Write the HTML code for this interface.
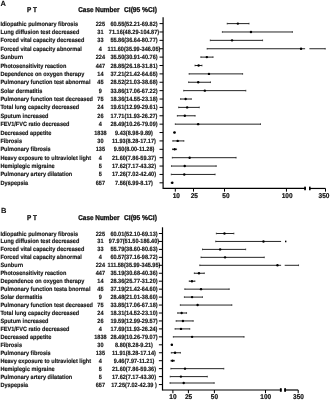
<!DOCTYPE html>
<html><head><meta charset="utf-8"><style>
html,body{margin:0;padding:0;background:#fff;width:330px;height:400px;overflow:hidden}
svg{display:block}
text{font-family:"Liberation Sans",Arial,sans-serif;font-weight:bold;fill:#111;stroke:#111;stroke-width:0.05px;paint-order:stroke;text-rendering:geometricPrecision}
.lb{font-size:6.2px;stroke-width:0.15px}
.hdr{font-size:7.1px;stroke-width:0.3px}
.tk{font-size:7.0px;stroke-width:0.2px}
.let{font-size:7.5px}
.ax{stroke:#000;stroke-width:1.2}
.ci{stroke:#1a1a1a;stroke-width:0.95}
.cap{stroke:#222;stroke-width:0.8}
.dot{fill:#000}
.tk2{stroke:#000;stroke-width:1.0}
</style></head><body>
<svg width="330" height="400" viewBox="0 0 330 400">
<g>
<rect x="0" y="0" width="330" height="400" fill="#fff"/>
<text x="0.4" y="5.9" class="let">A</text>
<text x="35.50" y="11.8" class="hdr" text-anchor="middle" transform="scale(0.9014,1)">P T</text>
<text x="86.75" y="11.8" class="hdr" transform="scale(0.9014,1)" textLength="45.82" lengthAdjust="spacingAndGlyphs">Case Number</text>
<text x="137.56" y="11.8" class="hdr" transform="scale(0.9014,1)" textLength="36.50" lengthAdjust="spacingAndGlyphs">CI(95 %CI)</text>
<line x1="163.1" y1="17.3" x2="163.1" y2="188.95" class="ax"/>
<line x1="163.1" y1="188.45" x2="305.9" y2="188.45" class="ax"/>
<rect x="304.2" y="186.65" width="1.70" height="3.6" class="dot"/>
<line x1="309.0" y1="188.45" x2="325.5" y2="188.45" class="ax"/>
<rect x="309.0" y="186.65" width="1.60" height="3.6" class="dot"/>
<line x1="175.30" y1="188.45" x2="175.30" y2="191.64999999999998" class="tk2"/>
<text x="189.86" y="198.05" class="tk" text-anchor="middle" transform="scale(0.9286,1)">10</text>
<line x1="193.50" y1="188.45" x2="193.50" y2="191.64999999999998" class="tk2"/>
<text x="209.24" y="198.05" class="tk" text-anchor="middle" transform="scale(0.9286,1)">25</text>
<line x1="224.50" y1="188.45" x2="224.50" y2="191.64999999999998" class="tk2"/>
<text x="243.27" y="198.05" class="tk" text-anchor="middle" transform="scale(0.9286,1)">50</text>
<line x1="286.45" y1="188.45" x2="286.45" y2="191.64999999999998" class="tk2"/>
<text x="309.18" y="198.05" class="tk" text-anchor="middle" transform="scale(0.9286,1)">100</text>
<line x1="325.50" y1="188.45" x2="325.50" y2="191.64999999999998" class="tk2"/>
<text x="348.91" y="198.05" class="tk" text-anchor="middle" transform="scale(0.9286,1)">350</text>
<text x="0.45" y="25.60" class="lb" transform="scale(0.8968,1)">Idiopathic pulmonary fibrosis</text>
<text x="111.95" y="25.60" class="lb" text-anchor="middle" transform="scale(0.8968,1)">225</text>
<text x="149.42" y="25.60" class="lb" text-anchor="middle" transform="scale(0.8968,1)">60.55(52.21-69.82)</text>
<line x1="159.5" y1="23.60" x2="163.1" y2="23.60" class="tk2"/>
<line x1="227.23" y1="23.60" x2="249.02" y2="23.60" class="ci"/>
<line x1="227.23" y1="22.80" x2="227.23" y2="24.40" class="cap"/>
<line x1="249.02" y1="22.80" x2="249.02" y2="24.40" class="cap"/>
<circle cx="237.85" cy="23.60" r="1.2" class="dot"/>
<text x="0.45" y="33.98" class="lb" transform="scale(0.8968,1)">Lung diffusion test decreased</text>
<text x="111.95" y="33.98" class="lb" text-anchor="middle" transform="scale(0.8968,1)">31</text>
<text x="149.42" y="33.98" class="lb" text-anchor="middle" transform="scale(0.8968,1)">71.16(48.29-104.87)</text>
<line x1="159.5" y1="31.98" x2="163.1" y2="31.98" class="tk2"/>
<line x1="222.37" y1="31.98" x2="292.41" y2="31.98" class="ci"/>
<line x1="222.37" y1="31.18" x2="222.37" y2="32.78" class="cap"/>
<line x1="292.41" y1="31.18" x2="292.41" y2="32.78" class="cap"/>
<circle cx="250.98" cy="31.98" r="1.2" class="dot"/>
<text x="0.45" y="42.36" class="lb" transform="scale(0.8968,1)">Forced vital capacity decreased</text>
<text x="111.95" y="42.36" class="lb" text-anchor="middle" transform="scale(0.8968,1)">33</text>
<text x="149.42" y="42.36" class="lb" text-anchor="middle" transform="scale(0.8968,1)">55.86(36.64-80.77)</text>
<line x1="159.5" y1="40.36" x2="163.1" y2="40.36" class="tk2"/>
<line x1="210.30" y1="40.36" x2="262.58" y2="40.36" class="ci"/>
<line x1="210.30" y1="39.56" x2="210.30" y2="41.16" class="cap"/>
<line x1="262.58" y1="39.56" x2="262.58" y2="41.16" class="cap"/>
<circle cx="232.04" cy="40.36" r="1.2" class="dot"/>
<text x="0.45" y="50.74" class="lb" transform="scale(0.8968,1)">Forced vital capacity abnormal</text>
<text x="111.95" y="50.74" class="lb" text-anchor="middle" transform="scale(0.8968,1)">4</text>
<text x="149.42" y="50.74" class="lb" text-anchor="middle" transform="scale(0.8968,1)">111.60(35.99-346.05)</text>
<line x1="159.5" y1="48.74" x2="163.1" y2="48.74" class="tk2"/>
<line x1="207.15" y1="48.74" x2="305.10" y2="48.74" class="ci"/>
<line x1="309.40" y1="48.74" x2="325.23" y2="48.74" class="ci"/>
<line x1="207.15" y1="47.94" x2="207.15" y2="49.54" class="cap"/>
<line x1="325.23" y1="47.94" x2="325.23" y2="49.54" class="cap"/>
<circle cx="301.04" cy="48.74" r="1.2" class="dot"/>
<text x="0.45" y="59.12" class="lb" transform="scale(0.8968,1)">Sunburn</text>
<text x="111.95" y="59.12" class="lb" text-anchor="middle" transform="scale(0.8968,1)">224</text>
<text x="149.42" y="59.12" class="lb" text-anchor="middle" transform="scale(0.8968,1)">35.50(30.91-40.76)</text>
<line x1="159.5" y1="57.12" x2="163.1" y2="57.12" class="tk2"/>
<line x1="200.86" y1="57.12" x2="213.05" y2="57.12" class="ci"/>
<line x1="200.86" y1="56.32" x2="200.86" y2="57.92" class="cap"/>
<line x1="213.05" y1="56.32" x2="213.05" y2="57.92" class="cap"/>
<circle cx="206.84" cy="57.12" r="1.2" class="dot"/>
<text x="0.45" y="67.50" class="lb" transform="scale(0.8968,1)">Photosensitivity reaction</text>
<text x="111.95" y="67.50" class="lb" text-anchor="middle" transform="scale(0.8968,1)">447</text>
<text x="149.42" y="67.50" class="lb" text-anchor="middle" transform="scale(0.8968,1)">28.85(26.18-31.81)</text>
<line x1="159.5" y1="65.50" x2="163.1" y2="65.50" class="tk2"/>
<line x1="195.01" y1="65.50" x2="201.97" y2="65.50" class="ci"/>
<line x1="195.01" y1="64.70" x2="195.01" y2="66.30" class="cap"/>
<line x1="201.97" y1="64.70" x2="201.97" y2="66.30" class="cap"/>
<circle cx="198.61" cy="65.50" r="1.2" class="dot"/>
<text x="0.45" y="75.88" class="lb" transform="scale(0.8968,1)">Dependence on oxygen therapy</text>
<text x="111.95" y="75.88" class="lb" text-anchor="middle" transform="scale(0.8968,1)">14</text>
<text x="149.42" y="75.88" class="lb" text-anchor="middle" transform="scale(0.8968,1)">37.21(21.42-64.65)</text>
<line x1="159.5" y1="73.88" x2="163.1" y2="73.88" class="tk2"/>
<line x1="189.11" y1="73.88" x2="242.62" y2="73.88" class="ci"/>
<line x1="189.11" y1="73.08" x2="189.11" y2="74.68" class="cap"/>
<line x1="242.62" y1="73.08" x2="242.62" y2="74.68" class="cap"/>
<circle cx="208.96" cy="73.88" r="1.2" class="dot"/>
<text x="0.45" y="84.26" class="lb" transform="scale(0.8968,1)">Pulmonary function test abnormal</text>
<text x="111.95" y="84.26" class="lb" text-anchor="middle" transform="scale(0.8968,1)">45</text>
<text x="149.42" y="84.26" class="lb" text-anchor="middle" transform="scale(0.8968,1)">28.52(21.03-38.68)</text>
<line x1="159.5" y1="82.26" x2="163.1" y2="82.26" class="tk2"/>
<line x1="188.63" y1="82.26" x2="210.48" y2="82.26" class="ci"/>
<line x1="188.63" y1="81.46" x2="188.63" y2="83.06" class="cap"/>
<line x1="210.48" y1="81.46" x2="210.48" y2="83.06" class="cap"/>
<circle cx="198.20" cy="82.26" r="1.2" class="dot"/>
<text x="0.45" y="92.64" class="lb" transform="scale(0.8968,1)">Solar dermatitis</text>
<text x="111.95" y="92.64" class="lb" text-anchor="middle" transform="scale(0.8968,1)">9</text>
<text x="149.42" y="92.64" class="lb" text-anchor="middle" transform="scale(0.8968,1)">33.86(17.06-67.22)</text>
<line x1="159.5" y1="90.64" x2="163.1" y2="90.64" class="tk2"/>
<line x1="183.72" y1="90.64" x2="245.80" y2="90.64" class="ci"/>
<line x1="183.72" y1="89.84" x2="183.72" y2="91.44" class="cap"/>
<line x1="245.80" y1="89.84" x2="245.80" y2="91.44" class="cap"/>
<circle cx="204.81" cy="90.64" r="1.2" class="dot"/>
<text x="0.45" y="101.02" class="lb" transform="scale(0.8968,1)">Pulmonary function test decreased</text>
<text x="111.95" y="101.02" class="lb" text-anchor="middle" transform="scale(0.8968,1)">75</text>
<text x="149.42" y="101.02" class="lb" text-anchor="middle" transform="scale(0.8968,1)">18.36(14.55-23.18)</text>
<line x1="159.5" y1="99.02" x2="163.1" y2="99.02" class="tk2"/>
<line x1="180.61" y1="99.02" x2="191.29" y2="99.02" class="ci"/>
<line x1="180.61" y1="98.22" x2="180.61" y2="99.82" class="cap"/>
<line x1="191.29" y1="98.22" x2="191.29" y2="99.82" class="cap"/>
<circle cx="185.63" cy="99.02" r="1.2" class="dot"/>
<text x="0.45" y="109.40" class="lb" transform="scale(0.8968,1)">Total lung capacity decreased</text>
<text x="111.95" y="109.40" class="lb" text-anchor="middle" transform="scale(0.8968,1)">24</text>
<text x="149.42" y="109.40" class="lb" text-anchor="middle" transform="scale(0.8968,1)">19.61(12.99-29.61)</text>
<line x1="159.5" y1="107.40" x2="163.1" y2="107.40" class="tk2"/>
<line x1="178.68" y1="107.40" x2="199.25" y2="107.40" class="ci"/>
<line x1="178.68" y1="106.60" x2="178.68" y2="108.20" class="cap"/>
<line x1="199.25" y1="106.60" x2="199.25" y2="108.20" class="cap"/>
<circle cx="187.17" cy="107.40" r="1.2" class="dot"/>
<text x="0.45" y="117.78" class="lb" transform="scale(0.8968,1)">Sputum increased</text>
<text x="111.95" y="117.78" class="lb" text-anchor="middle" transform="scale(0.8968,1)">26</text>
<text x="149.42" y="117.78" class="lb" text-anchor="middle" transform="scale(0.8968,1)">17.71(11.93-26.27)</text>
<line x1="159.5" y1="115.78" x2="163.1" y2="115.78" class="tk2"/>
<line x1="177.37" y1="115.78" x2="195.12" y2="115.78" class="ci"/>
<line x1="177.37" y1="114.98" x2="177.37" y2="116.58" class="cap"/>
<line x1="195.12" y1="114.98" x2="195.12" y2="116.58" class="cap"/>
<circle cx="184.82" cy="115.78" r="1.2" class="dot"/>
<text x="0.45" y="126.16" class="lb" transform="scale(0.8968,1)">FEV1/FVC ratio decreased</text>
<text x="111.95" y="126.16" class="lb" text-anchor="middle" transform="scale(0.8968,1)">4</text>
<text x="149.42" y="126.16" class="lb" text-anchor="middle" transform="scale(0.8968,1)">28.49(10.26-79.09)</text>
<line x1="159.5" y1="124.16" x2="163.1" y2="124.16" class="tk2"/>
<line x1="175.30" y1="124.16" x2="260.50" y2="124.16" class="ci"/>
<line x1="175.30" y1="123.36" x2="175.30" y2="124.96" class="cap"/>
<line x1="260.50" y1="123.36" x2="260.50" y2="124.96" class="cap"/>
<circle cx="198.16" cy="124.16" r="1.2" class="dot"/>
<text x="0.45" y="134.54" class="lb" transform="scale(0.8968,1)">Decreased appetite</text>
<text x="111.95" y="134.54" class="lb" text-anchor="middle" transform="scale(0.8968,1)">1838</text>
<text x="149.42" y="134.54" class="lb" text-anchor="middle" transform="scale(0.8968,1)">9.43(8.98-9.89)</text>
<line x1="159.5" y1="132.54" x2="163.1" y2="132.54" class="tk2"/>
<line x1="173.72" y1="132.54" x2="174.84" y2="132.54" class="ci"/>
<line x1="173.72" y1="131.74" x2="173.72" y2="133.34" class="cap"/>
<line x1="174.84" y1="131.74" x2="174.84" y2="133.34" class="cap"/>
<circle cx="174.57" cy="132.54" r="1.2" class="dot"/>
<text x="0.45" y="142.92" class="lb" transform="scale(0.8968,1)">Fibrosis</text>
<text x="111.95" y="142.92" class="lb" text-anchor="middle" transform="scale(0.8968,1)">30</text>
<text x="149.42" y="142.92" class="lb" text-anchor="middle" transform="scale(0.8968,1)">11.93(8.28-17.17)</text>
<line x1="159.5" y1="140.92" x2="163.1" y2="140.92" class="tk2"/>
<line x1="172.85" y1="140.92" x2="183.85" y2="140.92" class="ci"/>
<line x1="172.85" y1="140.12" x2="172.85" y2="141.72" class="cap"/>
<line x1="183.85" y1="140.12" x2="183.85" y2="141.72" class="cap"/>
<circle cx="177.67" cy="140.92" r="1.2" class="dot"/>
<text x="0.45" y="151.30" class="lb" transform="scale(0.8968,1)">Pulmonary fibrosis</text>
<text x="111.95" y="151.30" class="lb" text-anchor="middle" transform="scale(0.8968,1)">135</text>
<text x="149.42" y="151.30" class="lb" text-anchor="middle" transform="scale(0.8968,1)">9.50(8.00-11.28)</text>
<line x1="159.5" y1="149.30" x2="163.1" y2="149.30" class="tk2"/>
<line x1="172.50" y1="149.30" x2="176.56" y2="149.30" class="ci"/>
<line x1="172.50" y1="148.50" x2="172.50" y2="150.10" class="cap"/>
<line x1="176.56" y1="148.50" x2="176.56" y2="150.10" class="cap"/>
<circle cx="174.66" cy="149.30" r="1.2" class="dot"/>
<text x="0.45" y="159.68" class="lb" transform="scale(0.8968,1)">Heavy exposure to ultraviolet light</text>
<text x="111.95" y="159.68" class="lb" text-anchor="middle" transform="scale(0.8968,1)">4</text>
<text x="149.42" y="159.68" class="lb" text-anchor="middle" transform="scale(0.8968,1)">21.60(7.86-59.37)</text>
<line x1="159.5" y1="157.68" x2="163.1" y2="157.68" class="tk2"/>
<line x1="172.33" y1="157.68" x2="236.09" y2="157.68" class="ci"/>
<line x1="172.33" y1="156.88" x2="172.33" y2="158.48" class="cap"/>
<line x1="236.09" y1="156.88" x2="236.09" y2="158.48" class="cap"/>
<circle cx="189.64" cy="157.68" r="1.2" class="dot"/>
<text x="0.45" y="168.06" class="lb" transform="scale(0.8968,1)">Hemiplegic migraine</text>
<text x="111.95" y="168.06" class="lb" text-anchor="middle" transform="scale(0.8968,1)">5</text>
<text x="149.42" y="168.06" class="lb" text-anchor="middle" transform="scale(0.8968,1)">17.62(7.17-43.32)</text>
<line x1="159.5" y1="166.06" x2="163.1" y2="166.06" class="tk2"/>
<line x1="171.48" y1="166.06" x2="216.22" y2="166.06" class="ci"/>
<line x1="171.48" y1="165.26" x2="171.48" y2="166.86" class="cap"/>
<line x1="216.22" y1="165.26" x2="216.22" y2="166.86" class="cap"/>
<circle cx="184.71" cy="166.06" r="1.2" class="dot"/>
<text x="0.45" y="176.44" class="lb" transform="scale(0.8968,1)">Pulmonary artery dilatation</text>
<text x="111.95" y="176.44" class="lb" text-anchor="middle" transform="scale(0.8968,1)">5</text>
<text x="149.42" y="176.44" class="lb" text-anchor="middle" transform="scale(0.8968,1)">17.26(7.02-42.40)</text>
<line x1="159.5" y1="174.44" x2="163.1" y2="174.44" class="tk2"/>
<line x1="171.29" y1="174.44" x2="215.08" y2="174.44" class="ci"/>
<line x1="171.29" y1="173.64" x2="171.29" y2="175.24" class="cap"/>
<line x1="215.08" y1="173.64" x2="215.08" y2="175.24" class="cap"/>
<circle cx="184.26" cy="174.44" r="1.2" class="dot"/>
<text x="0.45" y="184.82" class="lb" transform="scale(0.8968,1)">Dyspepsia</text>
<text x="111.95" y="184.82" class="lb" text-anchor="middle" transform="scale(0.8968,1)">657</text>
<text x="149.42" y="184.82" class="lb" text-anchor="middle" transform="scale(0.8968,1)">7.56(6.99-8.17)</text>
<line x1="159.5" y1="182.82" x2="163.1" y2="182.82" class="tk2"/>
<line x1="171.25" y1="182.82" x2="172.71" y2="182.82" class="ci"/>
<line x1="171.25" y1="182.02" x2="171.25" y2="183.62" class="cap"/>
<line x1="172.71" y1="182.02" x2="172.71" y2="183.62" class="cap"/>
<circle cx="172.26" cy="182.82" r="1.2" class="dot"/>
<text x="1.0" y="212.6" class="let">B</text>
<text x="35.50" y="220.0" class="hdr" text-anchor="middle" transform="scale(0.9014,1)">P T</text>
<text x="86.75" y="220.0" class="hdr" transform="scale(0.9014,1)" textLength="45.82" lengthAdjust="spacingAndGlyphs">Case Number</text>
<text x="137.56" y="220.0" class="hdr" transform="scale(0.9014,1)" textLength="36.50" lengthAdjust="spacingAndGlyphs">CI(95 %CI)</text>
<line x1="162.5" y1="227.3" x2="162.5" y2="390.5" class="ax"/>
<line x1="162.5" y1="390.0" x2="281.7" y2="390.0" class="ax"/>
<rect x="279.9" y="388.20" width="1.80" height="3.6" class="dot"/>
<line x1="284.2" y1="390.0" x2="298.2" y2="390.0" class="ax"/>
<rect x="284.2" y="388.20" width="1.80" height="3.6" class="dot"/>
<line x1="172.90" y1="390.0" x2="172.90" y2="393.2" class="tk2"/>
<text x="186.30" y="398.90" class="tk" text-anchor="middle" transform="scale(0.9286,1)">10</text>
<line x1="188.40" y1="390.0" x2="188.40" y2="393.2" class="tk2"/>
<text x="203.10" y="398.90" class="tk" text-anchor="middle" transform="scale(0.9286,1)">25</text>
<line x1="214.40" y1="390.0" x2="214.40" y2="393.2" class="tk2"/>
<text x="230.89" y="398.90" class="tk" text-anchor="middle" transform="scale(0.9286,1)">50</text>
<line x1="265.50" y1="390.0" x2="265.50" y2="393.2" class="tk2"/>
<text x="286.24" y="398.90" class="tk" text-anchor="middle" transform="scale(0.9286,1)">100</text>
<line x1="298.20" y1="390.0" x2="298.20" y2="393.2" class="tk2"/>
<text x="321.45" y="398.90" class="tk" text-anchor="middle" transform="scale(0.9286,1)">350</text>
<text x="0.45" y="235.50" class="lb" transform="scale(0.8968,1)">Idiopathic pulmonary fibrosis</text>
<text x="111.95" y="235.50" class="lb" text-anchor="middle" transform="scale(0.8968,1)">225</text>
<text x="149.42" y="235.50" class="lb" text-anchor="middle" transform="scale(0.8968,1)">60.01(52.10-69.13)</text>
<line x1="158.9" y1="233.50" x2="162.5" y2="233.50" class="tk2"/>
<line x1="216.35" y1="233.50" x2="233.85" y2="233.50" class="ci"/>
<line x1="216.35" y1="232.70" x2="216.35" y2="234.30" class="cap"/>
<line x1="233.85" y1="232.70" x2="233.85" y2="234.30" class="cap"/>
<circle cx="224.48" cy="233.50" r="1.2" class="dot"/>
<text x="0.45" y="243.45" class="lb" transform="scale(0.8968,1)">Lung diffusion test decreased</text>
<text x="111.95" y="243.45" class="lb" text-anchor="middle" transform="scale(0.8968,1)">31</text>
<text x="149.42" y="243.45" class="lb" text-anchor="middle" transform="scale(0.8968,1)">97.97(51.50-186.40)</text>
<line x1="158.9" y1="241.45" x2="162.5" y2="241.45" class="tk2"/>
<line x1="215.73" y1="241.45" x2="281.10" y2="241.45" class="ci"/>
<line x1="215.73" y1="240.65" x2="215.73" y2="242.25" class="cap"/>
<rect x="285.0" y="240.65" width="1.4" height="1.6" class="dot"/>
<circle cx="263.48" cy="241.45" r="1.2" class="dot"/>
<text x="0.45" y="251.40" class="lb" transform="scale(0.8968,1)">Forced vital capacity decreased</text>
<text x="111.95" y="251.40" class="lb" text-anchor="middle" transform="scale(0.8968,1)">33</text>
<text x="149.42" y="251.40" class="lb" text-anchor="middle" transform="scale(0.8968,1)">55.79(38.60-80.63)</text>
<line x1="158.9" y1="249.40" x2="162.5" y2="249.40" class="tk2"/>
<line x1="202.48" y1="249.40" x2="245.67" y2="249.40" class="ci"/>
<line x1="202.48" y1="248.60" x2="202.48" y2="250.20" class="cap"/>
<line x1="245.67" y1="248.60" x2="245.67" y2="250.20" class="cap"/>
<circle cx="220.14" cy="249.40" r="1.2" class="dot"/>
<text x="0.45" y="259.35" class="lb" transform="scale(0.8968,1)">Forced vital capacity abnormal</text>
<text x="111.95" y="259.35" class="lb" text-anchor="middle" transform="scale(0.8968,1)">4</text>
<text x="149.42" y="259.35" class="lb" text-anchor="middle" transform="scale(0.8968,1)">60.57(37.16-98.72)</text>
<line x1="158.9" y1="257.35" x2="162.5" y2="257.35" class="tk2"/>
<line x1="201.00" y1="257.35" x2="264.25" y2="257.35" class="ci"/>
<line x1="201.00" y1="256.55" x2="201.00" y2="258.15" class="cap"/>
<line x1="264.25" y1="256.55" x2="264.25" y2="258.15" class="cap"/>
<circle cx="225.05" cy="257.35" r="1.2" class="dot"/>
<text x="0.45" y="267.30" class="lb" transform="scale(0.8968,1)">Sunburn</text>
<text x="111.95" y="267.30" class="lb" text-anchor="middle" transform="scale(0.8968,1)">224</text>
<text x="149.42" y="267.30" class="lb" text-anchor="middle" transform="scale(0.8968,1)">111.58(35.99-345.95)</text>
<line x1="158.9" y1="265.30" x2="162.5" y2="265.30" class="tk2"/>
<line x1="199.79" y1="265.30" x2="281.10" y2="265.30" class="ci"/>
<line x1="284.70" y1="265.30" x2="298.56" y2="265.30" class="ci"/>
<line x1="199.79" y1="264.50" x2="199.79" y2="266.10" class="cap"/>
<line x1="298.56" y1="264.50" x2="298.56" y2="266.10" class="cap"/>
<circle cx="277.47" cy="265.30" r="1.2" class="dot"/>
<text x="0.45" y="275.25" class="lb" transform="scale(0.8968,1)">Photosensitivity reaction</text>
<text x="111.95" y="275.25" class="lb" text-anchor="middle" transform="scale(0.8968,1)">447</text>
<text x="149.42" y="275.25" class="lb" text-anchor="middle" transform="scale(0.8968,1)">35.19(30.68-40.36)</text>
<line x1="158.9" y1="273.25" x2="162.5" y2="273.25" class="tk2"/>
<line x1="194.34" y1="273.25" x2="204.28" y2="273.25" class="ci"/>
<line x1="194.34" y1="272.45" x2="194.34" y2="274.05" class="cap"/>
<line x1="204.28" y1="272.45" x2="204.28" y2="274.05" class="cap"/>
<circle cx="198.97" cy="273.25" r="1.2" class="dot"/>
<text x="0.45" y="283.20" class="lb" transform="scale(0.8968,1)">Dependence on oxygen therapy</text>
<text x="111.95" y="283.20" class="lb" text-anchor="middle" transform="scale(0.8968,1)">14</text>
<text x="149.42" y="283.20" class="lb" text-anchor="middle" transform="scale(0.8968,1)">28.36(25.77-31.20)</text>
<line x1="158.9" y1="281.20" x2="162.5" y2="281.20" class="tk2"/>
<line x1="189.29" y1="281.20" x2="194.87" y2="281.20" class="ci"/>
<line x1="189.29" y1="280.40" x2="189.29" y2="282.00" class="cap"/>
<line x1="194.87" y1="280.40" x2="194.87" y2="282.00" class="cap"/>
<circle cx="191.95" cy="281.20" r="1.2" class="dot"/>
<text x="0.45" y="291.15" class="lb" transform="scale(0.8968,1)">Pulmonary function testa bnormal</text>
<text x="111.95" y="291.15" class="lb" text-anchor="middle" transform="scale(0.8968,1)">45</text>
<text x="149.42" y="291.15" class="lb" text-anchor="middle" transform="scale(0.8968,1)">37.19(21.42-64.60)</text>
<line x1="158.9" y1="289.15" x2="162.5" y2="289.15" class="tk2"/>
<line x1="184.82" y1="289.15" x2="229.19" y2="289.15" class="ci"/>
<line x1="184.82" y1="288.35" x2="184.82" y2="289.95" class="cap"/>
<line x1="229.19" y1="288.35" x2="229.19" y2="289.95" class="cap"/>
<circle cx="201.03" cy="289.15" r="1.2" class="dot"/>
<text x="0.45" y="299.10" class="lb" transform="scale(0.8968,1)">Solar dermatitis</text>
<text x="111.95" y="299.10" class="lb" text-anchor="middle" transform="scale(0.8968,1)">9</text>
<text x="149.42" y="299.10" class="lb" text-anchor="middle" transform="scale(0.8968,1)">28.48(21.01-38.60)</text>
<line x1="158.9" y1="297.10" x2="162.5" y2="297.10" class="tk2"/>
<line x1="184.40" y1="297.10" x2="202.48" y2="297.10" class="ci"/>
<line x1="184.40" y1="296.30" x2="184.40" y2="297.90" class="cap"/>
<line x1="202.48" y1="296.30" x2="202.48" y2="297.90" class="cap"/>
<circle cx="192.08" cy="297.10" r="1.2" class="dot"/>
<text x="0.45" y="307.05" class="lb" transform="scale(0.8968,1)">Pulmonary function test decreased</text>
<text x="111.95" y="307.05" class="lb" text-anchor="middle" transform="scale(0.8968,1)">75</text>
<text x="149.42" y="307.05" class="lb" text-anchor="middle" transform="scale(0.8968,1)">33.85(17.06-67.18)</text>
<line x1="158.9" y1="305.05" x2="162.5" y2="305.05" class="tk2"/>
<line x1="180.34" y1="305.05" x2="231.84" y2="305.05" class="ci"/>
<line x1="180.34" y1="304.25" x2="180.34" y2="305.85" class="cap"/>
<line x1="231.84" y1="304.25" x2="231.84" y2="305.85" class="cap"/>
<circle cx="197.59" cy="305.05" r="1.2" class="dot"/>
<text x="0.45" y="315.00" class="lb" transform="scale(0.8968,1)">Total lung capacity decreased</text>
<text x="111.95" y="315.00" class="lb" text-anchor="middle" transform="scale(0.8968,1)">24</text>
<text x="149.42" y="315.00" class="lb" text-anchor="middle" transform="scale(0.8968,1)">18.31(14.52-23.10)</text>
<line x1="158.9" y1="313.00" x2="162.5" y2="313.00" class="tk2"/>
<line x1="177.73" y1="313.00" x2="186.55" y2="313.00" class="ci"/>
<line x1="177.73" y1="312.20" x2="177.73" y2="313.80" class="cap"/>
<line x1="186.55" y1="312.20" x2="186.55" y2="313.80" class="cap"/>
<circle cx="181.63" cy="313.00" r="1.2" class="dot"/>
<text x="0.45" y="322.95" class="lb" transform="scale(0.8968,1)">Sputum increased</text>
<text x="111.95" y="322.95" class="lb" text-anchor="middle" transform="scale(0.8968,1)">26</text>
<text x="149.42" y="322.95" class="lb" text-anchor="middle" transform="scale(0.8968,1)">19.59(12.99-29.57)</text>
<line x1="158.9" y1="320.95" x2="162.5" y2="320.95" class="tk2"/>
<line x1="176.16" y1="320.95" x2="193.20" y2="320.95" class="ci"/>
<line x1="176.16" y1="320.15" x2="176.16" y2="321.75" class="cap"/>
<line x1="193.20" y1="320.15" x2="193.20" y2="321.75" class="cap"/>
<circle cx="182.94" cy="320.95" r="1.2" class="dot"/>
<text x="0.45" y="330.90" class="lb" transform="scale(0.8968,1)">FEV1/FVC ratio decreased</text>
<text x="111.95" y="330.90" class="lb" text-anchor="middle" transform="scale(0.8968,1)">4</text>
<text x="149.42" y="330.90" class="lb" text-anchor="middle" transform="scale(0.8968,1)">17.69(11.93-26.24)</text>
<line x1="158.9" y1="328.90" x2="162.5" y2="328.90" class="tk2"/>
<line x1="175.07" y1="328.90" x2="189.77" y2="328.90" class="ci"/>
<line x1="175.07" y1="328.10" x2="175.07" y2="329.70" class="cap"/>
<line x1="189.77" y1="328.10" x2="189.77" y2="329.70" class="cap"/>
<circle cx="180.99" cy="328.90" r="1.2" class="dot"/>
<text x="0.45" y="338.85" class="lb" transform="scale(0.8968,1)">Decreased appetite</text>
<text x="111.95" y="338.85" class="lb" text-anchor="middle" transform="scale(0.8968,1)">1838</text>
<text x="149.42" y="338.85" class="lb" text-anchor="middle" transform="scale(0.8968,1)">28.49(10.26-79.07)</text>
<line x1="158.9" y1="336.85" x2="162.5" y2="336.85" class="tk2"/>
<line x1="173.35" y1="336.85" x2="244.06" y2="336.85" class="ci"/>
<line x1="173.35" y1="336.05" x2="173.35" y2="337.65" class="cap"/>
<line x1="244.06" y1="336.05" x2="244.06" y2="337.65" class="cap"/>
<circle cx="192.09" cy="336.85" r="1.2" class="dot"/>
<text x="0.45" y="346.80" class="lb" transform="scale(0.8968,1)">Fibrosis</text>
<text x="111.95" y="346.80" class="lb" text-anchor="middle" transform="scale(0.8968,1)">30</text>
<text x="149.42" y="346.80" class="lb" text-anchor="middle" transform="scale(0.8968,1)">8.80(8.28-9.21)</text>
<line x1="158.9" y1="344.80" x2="162.5" y2="344.80" class="tk2"/>
<line x1="171.32" y1="344.80" x2="172.27" y2="344.80" class="ci"/>
<line x1="171.32" y1="344.00" x2="171.32" y2="345.60" class="cap"/>
<line x1="172.27" y1="344.00" x2="172.27" y2="345.60" class="cap"/>
<circle cx="171.85" cy="344.80" r="1.2" class="dot"/>
<text x="0.45" y="354.75" class="lb" transform="scale(0.8968,1)">Pulmonary fibrosis</text>
<text x="111.95" y="354.75" class="lb" text-anchor="middle" transform="scale(0.8968,1)">135</text>
<text x="149.42" y="354.75" class="lb" text-anchor="middle" transform="scale(0.8968,1)">11.91(8.28-17.14)</text>
<line x1="158.9" y1="352.75" x2="162.5" y2="352.75" class="tk2"/>
<line x1="171.32" y1="352.75" x2="180.42" y2="352.75" class="ci"/>
<line x1="171.32" y1="351.95" x2="171.32" y2="353.55" class="cap"/>
<line x1="180.42" y1="351.95" x2="180.42" y2="353.55" class="cap"/>
<circle cx="175.05" cy="352.75" r="1.2" class="dot"/>
<text x="0.45" y="362.70" class="lb" transform="scale(0.8968,1)">Heavy exposure to ultraviolet light</text>
<text x="111.95" y="362.70" class="lb" text-anchor="middle" transform="scale(0.8968,1)">4</text>
<text x="149.42" y="362.70" class="lb" text-anchor="middle" transform="scale(0.8968,1)">9.46(7.97-11.21)</text>
<line x1="158.9" y1="360.70" x2="162.5" y2="360.70" class="tk2"/>
<line x1="171.00" y1="360.70" x2="174.33" y2="360.70" class="ci"/>
<line x1="171.00" y1="359.90" x2="171.00" y2="361.50" class="cap"/>
<line x1="174.33" y1="359.90" x2="174.33" y2="361.50" class="cap"/>
<circle cx="172.53" cy="360.70" r="1.2" class="dot"/>
<text x="0.45" y="370.65" class="lb" transform="scale(0.8968,1)">Hemiplegic migraine</text>
<text x="111.95" y="370.65" class="lb" text-anchor="middle" transform="scale(0.8968,1)">5</text>
<text x="149.42" y="370.65" class="lb" text-anchor="middle" transform="scale(0.8968,1)">21.60(7.86-59.36)</text>
<line x1="158.9" y1="368.65" x2="162.5" y2="368.65" class="tk2"/>
<line x1="170.89" y1="368.65" x2="223.81" y2="368.65" class="ci"/>
<line x1="170.89" y1="367.85" x2="170.89" y2="369.45" class="cap"/>
<line x1="223.81" y1="367.85" x2="223.81" y2="369.45" class="cap"/>
<circle cx="185.01" cy="368.65" r="1.2" class="dot"/>
<text x="0.45" y="378.60" class="lb" transform="scale(0.8968,1)">Pulmonary artery dilatation</text>
<text x="111.95" y="378.60" class="lb" text-anchor="middle" transform="scale(0.8968,1)">5</text>
<text x="149.42" y="378.60" class="lb" text-anchor="middle" transform="scale(0.8968,1)">17.62(7.17-43.30)</text>
<line x1="158.9" y1="376.60" x2="162.5" y2="376.60" class="tk2"/>
<line x1="170.18" y1="376.60" x2="207.31" y2="376.60" class="ci"/>
<line x1="170.18" y1="375.80" x2="170.18" y2="377.40" class="cap"/>
<line x1="207.31" y1="375.80" x2="207.31" y2="377.40" class="cap"/>
<circle cx="180.92" cy="376.60" r="1.2" class="dot"/>
<text x="0.45" y="386.55" class="lb" transform="scale(0.8968,1)">Dyspepsia</text>
<text x="111.95" y="386.55" class="lb" text-anchor="middle" transform="scale(0.8968,1)">657</text>
<text x="149.42" y="386.55" class="lb" text-anchor="middle" transform="scale(0.8968,1)">17.25(7.02-42.39 )</text>
<line x1="158.9" y1="384.55" x2="162.5" y2="384.55" class="tk2"/>
<line x1="170.00" y1="383.00" x2="214.20" y2="383.00" class="ci"/>
<line x1="170.00" y1="382.20" x2="170.00" y2="383.80" class="cap"/>
<line x1="214.20" y1="382.20" x2="214.20" y2="383.80" class="cap"/>
<circle cx="183.70" cy="383.00" r="1.2" class="dot"/>
</g>
</svg>
</body></html>
